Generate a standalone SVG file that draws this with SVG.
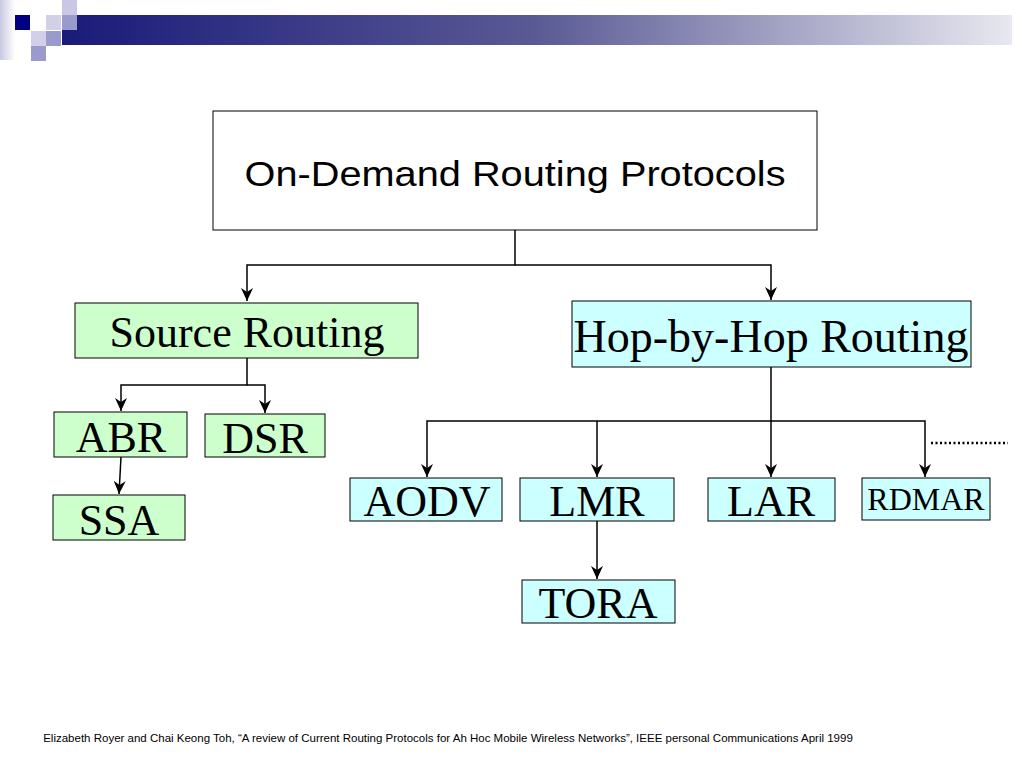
<svg xmlns="http://www.w3.org/2000/svg" width="1024" height="768" viewBox="0 0 1024 768">
<defs>
<linearGradient id="bar" x1="0" x2="1"><stop offset="0" stop-color="#1a1a7a"/><stop offset="0.5" stop-color="#5a5a95"/><stop offset="1" stop-color="#e8e8f0"/></linearGradient>
<linearGradient id="lft" x1="0" x2="1"><stop offset="0" stop-color="#c8c8e0"/><stop offset="1" stop-color="#ffffff"/></linearGradient>
<marker id="a" markerWidth="14" markerHeight="12" refX="13" refY="6" orient="auto" markerUnits="userSpaceOnUse" viewBox="0 0 14 12"><path d="M0,0 L13,6 L0,12 L4,6 z" fill="#000"/></marker>
</defs>
<style>
.g{fill:#ccffcc;stroke:#000;stroke-width:1}
.c{fill:#ccffff;stroke:#000;stroke-width:1}
.t{font-family:'Liberation Serif','Times New Roman',Times,serif;font-size:44px;text-anchor:middle;fill:#000}
.l{fill:none;stroke:#000;stroke-width:1.5}
</style>
<rect width="1024" height="768" fill="#fff"/>
<g id="deco">
<rect x="0" y="0" width="15" height="60" fill="url(#lft)"/>
<rect x="62" y="15" width="950" height="30" fill="url(#bar)"/>
<rect x="15" y="15" width="15" height="15" fill="#000080"/>
<rect x="62" y="0" width="15" height="15" fill="#c8c8e4"/>
<rect x="46" y="15" width="15" height="15" fill="#d0d0e8"/>
<rect x="62" y="15" width="15" height="15" fill="#9a9acc"/>
<rect x="31" y="31" width="15" height="15" fill="#d0d0e8"/>
<rect x="46" y="31" width="15" height="15" fill="#9a9acc"/>
<rect x="31" y="46" width="15" height="15" fill="#9a9acc"/>
</g>
<g id="connectors">
<path class="l" d="M515,230 V265 H247 V301" marker-end="url(#a)"/>
<path class="l" d="M515,265 H771 V300" marker-end="url(#a)"/>
<path class="l" d="M247,358 V385 H121 V411" marker-end="url(#a)"/>
<path class="l" d="M247,385 H265 V413" marker-end="url(#a)"/>
<path class="l" d="M121,457 L119,494" marker-end="url(#a)"/>
<path class="l" d="M771,367 V421 H427 V477" marker-end="url(#a)"/>
<path class="l" d="M597,421 V477" marker-end="url(#a)"/>
<path class="l" d="M771,421 V477" marker-end="url(#a)"/>
<path class="l" d="M771,421 H925 V477" marker-end="url(#a)"/>
<path d="M931,443 H1008" stroke="#000" stroke-width="2.5" stroke-dasharray="2,2.5"/>
<path class="l" d="M597,521 V579" marker-end="url(#a)"/>
</g>
<g id="root"><rect x="213" y="111" width="604" height="119" fill="#fff" stroke="#000"/><text x="515" y="186" font-family="'Liberation Sans',Arial,sans-serif" font-size="35" text-anchor="middle" textLength="541" lengthAdjust="spacingAndGlyphs">On-Demand Routing Protocols</text></g>
<g id="source"><rect class="g" x="75" y="303" width="343" height="55"/><text class="t" x="247" y="347">Source Routing</text></g>
<g id="hop"><rect class="c" x="572" y="301" width="399" height="66"/><text class="t" x="771" y="352" style="font-size:46px">Hop-by-Hop Routing</text></g>
<g id="abr"><rect class="g" x="54" y="412" width="133" height="45"/><text class="t" x="121" y="452">ABR</text></g>
<g id="dsr"><rect class="g" x="205" y="414" width="120" height="43"/><text class="t" x="265" y="453">DSR</text></g>
<g id="ssa"><rect class="g" x="53" y="495" width="132" height="45"/><text class="t" x="119" y="535">SSA</text></g>
<g id="aodv"><rect class="c" x="350" y="478" width="152" height="43"/><text class="t" x="427" y="516">AODV</text></g>
<g id="lmr"><rect class="c" x="520" y="478" width="154" height="43"/><text class="t" x="597" y="516">LMR</text></g>
<g id="lar"><rect class="c" x="708" y="478" width="127" height="43"/><text class="t" x="771" y="516">LAR</text></g>
<g id="rdmar"><rect class="c" x="862" y="478" width="128" height="42"/><text class="t" x="926" y="510" style="font-size:32px">RDMAR</text></g>
<g id="tora"><rect class="c" x="522" y="580" width="153" height="43"/><text class="t" x="598" y="618">TORA</text></g>
<text x="448" y="742" font-family="'Liberation Sans',Arial,sans-serif" font-size="11.5" text-anchor="middle">Elizabeth Royer and Chai Keong Toh, “A review of Current Routing Protocols for Ah Hoc Mobile Wireless Networks”, IEEE personal Communications April 1999</text>
</svg>
